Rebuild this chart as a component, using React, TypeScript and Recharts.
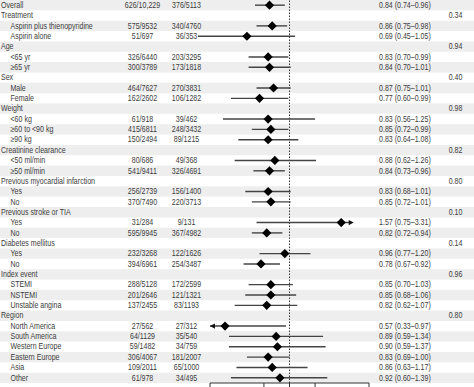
import React from 'react';
import {
  ScatterChart,
  Scatter,
  XAxis,
  YAxis,
  ReferenceArea,
  ReferenceLine,
} from 'recharts';

// row labels, header rows have no hazard ratio
const rowLabels = [
  'Overall',
  'Treatment',
  'Aspirin plus thienopyridine',
  'Aspirin alone',
  'Age',
  '<65 yr',
  '≥65 yr',
  'Sex',
  'Male',
  'Female',
  'Weight',
  '<60 kg',
  '≥60 to <90 kg',
  '≥90 kg',
  'Creatinine clearance',
  '<50 ml/min',
  '≥50 ml/min',
  'Previous myocardial infarction',
  'Yes',
  'No',
  'Previous stroke or TIA',
  'Yes',
  'No',
  'Diabetes mellitus',
  'Yes',
  'No',
  'Index event',
  'STEMI',
  'NSTEMI',
  'Unstable angina',
  'Region',
  'North America',
  'South America',
  'Western Europe',
  'Eastern Europe',
  'Asia',
  'Other',
];

const indented = [
  false, false, true, true, false, true, true, false, true, true, false, true, true, true,
  false, true, true, false, true, true, false, true, true, false, true, true, false, true,
  true, true, false, true, true, true, true, true, true,
];

const eventsA = [
  '626/10,229', '', '575/9532', '51/697', '', '326/6440', '300/3789', '', '464/7627',
  '162/2602', '', '61/918', '415/6811', '150/2494', '', '80/686', '541/9411', '',
  '256/2739', '370/7490', '', '31/284', '595/9945', '', '232/3268', '394/6961', '',
  '288/5128', '201/2646', '137/2455', '', '27/562', '64/1129', '59/1482', '306/4067',
  '109/2011', '61/978',
];

const eventsB = [
  '376/5113', '', '340/4760', '36/353', '', '203/3295', '173/1818', '', '270/3831',
  '106/1282', '', '39/462', '248/3432', '89/1215', '', '49/368', '326/4691', '',
  '156/1400', '220/3713', '', '9/131', '367/4982', '', '122/1626', '254/3487', '',
  '172/2599', '121/1321', '83/1193', '', '27/312', '35/540', '34/759', '181/2007',
  '65/1000', '34/495',
];

const hazardRatio = [
  0.84, null, 0.86, 0.69, null, 0.83, 0.84, null, 0.87, 0.77, null, 0.83, 0.85, 0.83,
  null, 0.88, 0.84, null, 0.83, 0.85, null, 1.57, 0.82, null, 0.96, 0.78, null, 0.85,
  0.85, 0.82, null, 0.57, 0.89, 0.9, 0.83, 0.86, 0.92,
];

const ciLow = [
  0.74, null, 0.75, 0.45, null, 0.7, 0.7, null, 0.75, 0.6, null, 0.56, 0.72, 0.64,
  null, 0.62, 0.73, null, 0.68, 0.72, null, 0.75, 0.72, null, 0.77, 0.67, null, 0.7,
  0.68, 0.62, null, 0.33, 0.59, 0.59, 0.69, 0.63, 0.6,
];

const ciHigh = [
  0.96, null, 0.98, 1.05, null, 0.99, 1.01, null, 1.01, 0.99, null, 1.25, 0.99, 1.08,
  null, 1.26, 0.96, null, 1.01, 1.01, null, 3.31, 0.94, null, 1.2, 0.92, null, 1.03,
  1.06, 1.07, null, 0.97, 1.34, 1.37, 1.0, 1.17, 1.39,
];

const pInteraction = [
  '', '0.34', '', '', '0.94', '', '', '0.40', '', '', '0.98', '', '', '', '0.82', '', '',
  '0.80', '', '', '0.10', '', '', '0.14', '', '', '0.96', '', '', '', '0.80', '', '', '',
  '', '', '',
];

const xTicks = [0.5, 0.8, 1, 1.25, 2];
// intervals going past these are cut and end in an arrow
const truncLow = 0.4;
const truncHigh = 2.5;
const arrowLeft = 0.5;
const arrowRight = 1.75;

const fmt = (v: number) => v.toFixed(2);

const rows = rowLabels.map((_, i) => i);

const points = rows
  .filter((i) => hazardRatio[i] !== null)
  .map((i) => ({ row: i, x: hazardRatio[i] as number }));

const intervals = rows
  .filter((i) => hazardRatio[i] !== null)
  .map((i) => {
    const lo = ciLow[i] as number;
    const hi = ciHigh[i] as number;
    return {
      row: i,
      lo: lo < truncLow ? arrowLeft : lo,
      hi: hi > truncHigh ? arrowRight - 0.04 : hi,
    };
  });

const arrows = rows.flatMap((i) => {
  const out: { row: number; x: number; dir: number }[] = [];
  if (ciLow[i] !== null && (ciLow[i] as number) < truncLow) out.push({ row: i, x: arrowLeft, dir: -1 });
  if (ciHigh[i] !== null && (ciHigh[i] as number) > truncHigh) out.push({ row: i, x: arrowRight, dir: 1 });
  return out;
});

const stripes = rows.filter((i) => i % 2 === 0);

const FONT = '"Liberation Sans", Arial, sans-serif';
const TEXT = '#3c3c3c';
const SQUEEZE = 0.84; // the original face is narrower than anything installed

// one cell of text, squeezed horizontally around its anchor
const Cell = ({ x, y, anchor = 'start', children }: any) => (
  <text
    transform={`translate(${x},${y}) scale(${SQUEEZE},1)`}
    textAnchor={anchor}
    dominantBaseline="central"
  >
    {children}
  </text>
);

const RowTick = ({ y, payload }: any) => {
  const i = payload.value as number;
  if (i < 0 || i >= rowLabels.length) return <g />;
  const hr = hazardRatio[i];
  return (
    <g fontFamily={FONT} fontSize={8.4} fill={TEXT}>
      <Cell x={indented[i] ? 10.5 : 1} y={y}>
        {rowLabels[i]}
      </Cell>
      <Cell x={142.5} y={y} anchor="middle">
        {eventsA[i]}
      </Cell>
      <Cell x={186.5} y={y} anchor="middle">
        {eventsB[i]}
      </Cell>
      {hr !== null && (
        <Cell x={379} y={y}>
          {`${fmt(hr)} (${fmt(ciLow[i] as number)}–${fmt(ciHigh[i] as number)})`}
        </Cell>
      )}
      <Cell x={455.5} y={y} anchor="middle">
        {pInteraction[i]}
      </Cell>
    </g>
  );
};

const Diamond = ({ cx, cy }: any) => (
  <polygon
    points={`${cx - 4.6},${cy} ${cx},${cy - 4.6} ${cx + 4.6},${cy} ${cx},${cy + 4.6}`}
    fill="#000"
  />
);

const Arrow = ({ cx, cy, payload }: any) => {
  const d = payload.dir;
  return (
    <polygon
      points={`${cx},${cy} ${cx - d * 5},${cy - 2.6} ${cx - d * 5},${cy + 2.6}`}
      fill="#111"
    />
  );
};

export default function App() {
  return (
    <div style={{ width: 474, height: 387, background: '#fff' }}>
      <style>{'body{margin:0}'}</style>
      <ScatterChart
        width={474}
        height={387}
        margin={{ top: 0, right: 105, bottom: 0, left: 0 }}
      >
        <XAxis
          type="number"
          dataKey="x"
          scale="log"
          domain={[0.5, 2]}
          ticks={xTicks}
          allowDataOverflow
          height={4}
          tickSize={6}
          tickFormatter={() => ''}
          stroke="#333"
        />
        <YAxis
          type="number"
          dataKey="row"
          domain={[-0.5, rowLabels.length - 0.5]}
          ticks={rows}
          interval={0}
          reversed
          width={210}
          axisLine={false}
          tickLine={false}
          tick={<RowTick />}
        />
        {stripes.map((i) => (
          <ReferenceArea
            key={`s${i}`}
            y1={i - 0.5}
            y2={i + 0.5}
            x1={0.01}
            x2={100}
            ifOverflow="visible"
            fill="#eeeeee"
            fillOpacity={1}
            stroke="none"
          />
        ))}
        <ReferenceLine x={1} stroke="#333" strokeDasharray="1.5 1.5" />
        {intervals.map((d) => (
          <ReferenceLine
            key={`ci${d.row}`}
            segment={[
              { x: d.lo, y: d.row },
              { x: d.hi, y: d.row },
            ]}
            ifOverflow="visible"
            stroke="#444"
            strokeWidth={1.4}
          />
        ))}
        <Scatter data={points} shape={<Diamond />} isAnimationActive={false} />
        <Scatter data={arrows} shape={<Arrow />} isAnimationActive={false} />
      </ScatterChart>
    </div>
  );
}
